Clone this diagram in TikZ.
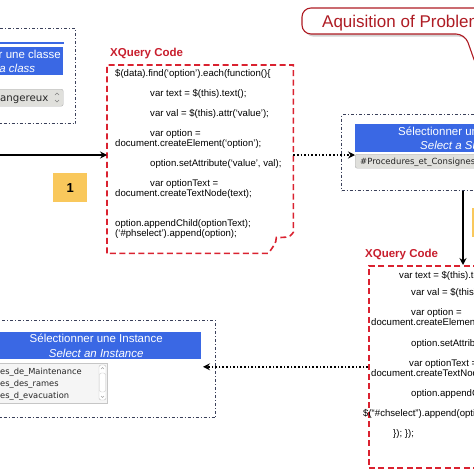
\documentclass[tikz,border=0pt]{standalone}
\usepackage{fontspec}
\setmainfont{Liberation Sans}
\newfontfamily\guifont{DejaVu Sans}
\usetikzlibrary{arrows.meta,shadows,calc,positioning}

\definecolor{bannerblue}{RGB}{58,104,228}
\definecolor{codered}{RGB}{218,34,48}
\definecolor{labelred}{RGB}{200,30,45}
\definecolor{calloutred}{RGB}{175,28,36}
\definecolor{panelgrey}{RGB}{58,64,90}
\definecolor{stepyellow}{RGB}{249,200,92}
\definecolor{combogrey}{RGB}{224,224,220}

\tikzset{
  panel/.style={draw=panelgrey, line width=1pt, dash dot, inner sep=0pt, anchor=north west},
  banner/.style={fill=bannerblue, text=white, inner sep=0pt, anchor=north west,
    align=center, font=\fontsize{11.5}{14.5}\selectfont},
  bannertext/.style={text=white, inner sep=0pt, anchor=base west, font=\fontsize{11.5}{14}\selectfont},
  combo/.style={draw=gray!60, fill=combogrey, rounded corners=2pt, inner sep=0pt, anchor=north west},
  listbox/.style={draw=gray!45, fill=gray!8, inner sep=0pt, anchor=north west},
  guitext/.style={inner sep=0pt, anchor=base west, text=black!85, font=\guifont\fontsize{8.3}{10}\selectfont},
  codebox/.style={draw=codered, line width=1.6pt, dash pattern=on 6pt off 3.5pt},
  codeline/.style={inner sep=0pt, anchor=base west, font=\fontsize{9.6}{10}\selectfont},
  codelabel/.style={inner sep=0pt, anchor=base west, text=labelred, font=\bfseries\fontsize{11.5}{12}\selectfont},
  stepbox/.style={fill=stepyellow, inner sep=0pt, anchor=north west, minimum width=34pt,
    minimum height=29pt, font=\bfseries\fontsize{13}{14}\selectfont},
  flow/.style={line width=1.3pt, -{Stealth[length=7pt,width=7pt,inset=2.5pt]}},
  dotflow/.style={line width=1.6pt, dotted, -{Stealth[length=7pt,width=7pt,inset=2.5pt]}},
  chevron/.style={draw=gray, line width=0.6pt}
}

\begin{document}
\begin{tikzpicture}[x=1pt,y=-1pt]
  \useasboundingbox (0,0) rectangle (474,474);
  \clip (0,0) rectangle (474,474);

  % class chooser, top left
  \node[panel, minimum width=80pt, minimum height=95pt] (classpanel) at (-5,28) {};
  \node[banner, minimum width=127pt, minimum height=28pt] (classbanner) at (-64,47)
    {Sélectionner une classe\\\textit{Select a class}};
  \draw[bannerblue, line width=1.2pt] ($(classbanner.north west)+(0,-4)$) -- ($(classbanner.north east)+(1,-4)$);
  \node[combo, minimum width=73pt, minimum height=17pt] (classcombo) at (-10,89) {};
  \node[guitext, font=\guifont\fontsize{10.2}{12}\selectfont] (classitem) at (0,101.5) {angereux};
  \draw[chevron] (55,95) -- (57,93) -- (59,95) (55,100) -- (57,102) -- (59,100);

  % subclass chooser, right
  \node[panel, minimum width=160pt, minimum height=76pt] (subpanel) at (341,114) {};
  \node[banner, minimum width=140pt, minimum height=28pt] (subbanner) at (355,124) {};
  \node[bannertext] (subtitle) at (398,135) {Sélectionner une Sous-classe};
  \node[bannertext, font=\itshape\fontsize{11.5}{14}\selectfont] (subtitleen) at (420,149) {Select a Subclass};
  \node[combo, minimum width=140pt, minimum height=14pt] (subcombo) at (355,154) {};
  \node[guitext, font=\guifont\fontsize{8.5}{10}\selectfont] (subitem) at (360,164.5) {\#Procedures\_et\_Consignes\_};

  % instance chooser, bottom left
  \node[panel, minimum width=220pt, minimum height=97pt] (instpanel) at (-5,320) {};
  \node[banner, minimum width=210pt, minimum height=27pt] (instbanner) at (-9,332)
    {Sélectionner une Instance\\\textit{Select an Instance}};
  \node[listbox, minimum width=112pt, minimum height=40pt] (instlist) at (-5,363) {};
  \foreach \yy/\txt [count=\i] in {374/es\_de\_Maintenance, 386/es\_des\_rames, 398/es\_d\_evacuation}
    \node[guitext] (item\i) at (0,\yy) {\txt};
  \draw[gray!50, fill=white, rounded corners=2pt] (99,365) rectangle (106,400);
  \draw[gray!40, rounded corners=2pt] (99.5,373) rectangle (105.5,392);
  \draw[chevron, gray!70] (101,369) -- (102.5,367.5) -- (104,369) (101,396) -- (102.5,397.5) -- (104,396);

  % first code block
  \node[codelabel] (labelA) at (110,56) {XQuery Code};
  \node[inner sep=0pt, anchor=north west, minimum width=186pt, minimum height=188pt] (code1) at (107,65) {};
  \draw[codebox] (code1.south west) -- (code1.north west) -- (code1.north east)
    -- ($(code1.south east)+(0,-21)$) .. controls +(-3,6) and +(6,0) .. ($(code1.south east)+(-17,-16)$)
    .. controls +(0,6) and +(4,-6) .. ($(code1.south east)+(-25,0)$) -- cycle;
  \foreach \xx/\yy/\txt [count=\i] in {
      115/76/{\$(data).find(`option').each(function()\{},
      150/96/{var text = \$(this).text();},
      150/116/{var val = \$(this).attr(`value');},
      150/136/{var option =},
      115/146/{document.createElement(`option');},
      150/166/{option.setAttribute(`value',  val);},
      150/186/{var optionText =},
      115/196/{document.createTextNode(text);},
      115/226/{option.appendChild(optionText);},
      115/236/{(`\#phselect').append(option);}}
    \node[codeline] (codeA\i) at (\xx,\yy) {\txt};

  % second code block
  \node[codelabel] (labelB) at (365,257) {XQuery Code};
  \node[codebox, inner sep=0pt, anchor=north west, minimum width=130pt, minimum height=202pt] (code2) at (368,265) {};
  \foreach \xx/\yy/\txt [count=\i] in {
      399/278/{var text = \$(this).text();},
      411/295/{var val = \$(this).attr(`value');},
      411/315/{var option =},
      371/325/{document.createElement(`option');},
      411/346/{option.setAttribute(`value', val);},
      409/366/{var optionText =},
      371/376/{document.createTextNode(text);},
      411/396/{option.appendChild(optionText);},
      363/416/{\$(``\#chselect'').append(option);},
      393/436/{\}); \});}}
    \node[codeline] (codeB\i) at (\xx,\yy) {\txt};

  % step markers
  \node[stepbox] (stepA) at (53,173) {1};
  \node[stepbox] (stepB) at (472,208) {};

  % title callout
  \draw[draw=calloutred, line width=1.1pt, fill=white, rounded corners=9pt, drop shadow={opacity=0.35}]
    (302,8) -- (510,8) -- (510,34) -- (484,34) -- (477,68) -- (465,34) -- (302,34) -- cycle;
  \node[inner sep=0pt, anchor=base west, text=calloutred, font=\fontsize{17}{20}\selectfont] (title) at (322,27)
    {Aquisition of Problem Description};

  % connectors
  \coordinate (feed) at (-10,155);
  \coordinate (drop) at (463,0);
  \coordinate (instport) at (203,0);
  \draw[flow] (feed) -- (feed -| code1.west);
  \draw[dotflow] (feed -| code1.east) -- (feed -| subcombo.west);
  \draw[flow] (drop |- subpanel.south) -- (drop |- code2.north);
  \draw[dotflow] (code2.west) -- (code2.west -| instport);
\end{tikzpicture}
\end{document}
